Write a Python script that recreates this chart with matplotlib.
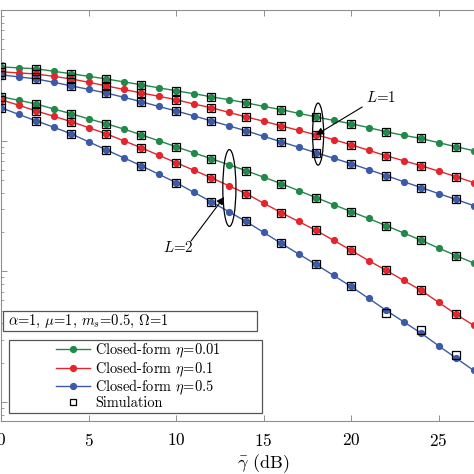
import numpy as np
import matplotlib
matplotlib.use("Agg")
import matplotlib.pyplot as plt
from matplotlib.patches import Ellipse, Rectangle
from matplotlib.lines import Line2D

plt.rcParams['font.family'] = ['cmr10', 'DejaVu Serif']
plt.rcParams['mathtext.fontset'] = 'cm'
plt.rcParams['axes.formatter.use_mathtext'] = True

# average SNR in dB (closed-form points every 1 dB, simulation every 2 dB)
snr_db = np.arange(0, 29)
snr_sim = np.arange(0, 29, 2)

# L = 1
cf_L1_eta001 = [0.367, 0.361, 0.355, 0.340, 0.325, 0.311, 0.297, 0.282, 0.268, 0.254,
                0.241, 0.229, 0.217, 0.206, 0.195, 0.183, 0.173, 0.162, 0.152, 0.143,
                0.135, 0.126, 0.117, 0.110, 0.104, 0.0966, 0.0899, 0.0839, 0.0782]
cf_L1_eta01 = [0.337, 0.330, 0.324, 0.311, 0.297, 0.280, 0.263, 0.247, 0.232, 0.219,
               0.206, 0.191, 0.179, 0.165, 0.152, 0.141, 0.130, 0.120, 0.111, 0.102,
               0.0931, 0.0845, 0.0767, 0.0703, 0.0644, 0.0585, 0.0531, 0.0478, 0.0431]
cf_L1_eta05 = [0.319, 0.308, 0.297, 0.280, 0.263, 0.247, 0.232, 0.215, 0.199, 0.183,
               0.169, 0.155, 0.142, 0.130, 0.119, 0.108, 0.0982, 0.0891, 0.0809, 0.0735,
               0.0667, 0.0601, 0.0541, 0.0486, 0.0438, 0.0394, 0.0355, 0.0319, 0.0287]

# L = 2
cf_L2_eta001 = [0.217, 0.204, 0.191, 0.175, 0.161, 0.147, 0.135, 0.123, 0.111, 0.100,
                0.0899, 0.0809, 0.0729, 0.0656, 0.0590, 0.0526, 0.0470, 0.0415, 0.0367, 0.0324,
                0.0287, 0.0254, 0.0224, 0.0197, 0.0173, 0.0151, 0.0132, 0.0116, 0.0102]
cf_L2_eta01 = [0.206, 0.187, 0.169, 0.154, 0.140, 0.126, 0.113, 0.100, 0.0885, 0.0775,
               0.0679, 0.0596, 0.0522, 0.0453, 0.0394, 0.0333, 0.0282, 0.0241, 0.0206, 0.0173,
               0.0145, 0.0121, 0.0102, 0.00853, 0.00716, 0.00580, 0.00470, 0.00387, 0.00319]
cf_L2_eta05 = [0.179, 0.159, 0.142, 0.127, 0.113, 0.0982, 0.0853, 0.0741, 0.0644, 0.0555,
               0.0478, 0.0404, 0.0342, 0.0287, 0.0241, 0.0199, 0.0164, 0.0136, 0.0113, 0.00931,
               0.00767, 0.00622, 0.00504, 0.00412, 0.00337, 0.00270, 0.00217, 0.00175, 0.00142]

sim_L1_eta001 = [0.367, 0.355, 0.325, 0.297, 0.268, 0.241, 0.217, 0.195, 0.173, 0.152,
                 0.135, 0.117, 0.104, 0.0899, 0.0782]
sim_L1_eta01 = [0.337, 0.324, 0.297, 0.263, 0.232, 0.206, 0.179, 0.152, 0.130, 0.111,
                0.0931, 0.0767, 0.0644, 0.0531, 0.0431]
sim_L1_eta05 = [0.319, 0.297, 0.263, 0.232, 0.199, 0.169, 0.142, 0.119, 0.0982, 0.0809,
                0.0667, 0.0541, 0.0438, 0.0355, 0.0287]
sim_L2_eta001 = [0.217, 0.191, 0.161, 0.135, 0.111, 0.0899, 0.0729, 0.0590, 0.0470, 0.0367,
                 0.0287, 0.0224, 0.0173, 0.0132, 0.0102]
sim_L2_eta01 = [0.206, 0.169, 0.140, 0.113, 0.0885, 0.0679, 0.0522, 0.0394, 0.0282, 0.0206,
                0.0145, 0.0102, 0.00716, 0.00470, 0.00319]
sim_L2_eta05 = [0.179, 0.142, 0.113, 0.0853, 0.0644, 0.0478, 0.0342, 0.0241, 0.0164, 0.0113,
                0.00767, 0.00478, 0.00355, 0.00229, 0.00150]

labels = [r'Closed-form $\eta$=0.01', r'Closed-form $\eta$=0.1', r'Closed-form $\eta$=0.5']
colors = ['#22894b', '#e4262c', '#3b5aa8']

fig = plt.figure(figsize=(4.74, 4.74), dpi=100)
# the reference is cropped: left edge at 0 dB, right side cut before 30 dB
ax = fig.add_axes([1 / 474, 53 / 474, 525 / 474, 411 / 474])

cf_curves = [[cf_L1_eta001, cf_L1_eta01, cf_L1_eta05],
             [cf_L2_eta001, cf_L2_eta01, cf_L2_eta05]]
sim_curves = [[sim_L1_eta001, sim_L1_eta01, sim_L1_eta05],
              [sim_L2_eta001, sim_L2_eta01, sim_L2_eta05]]

for cf_set, sim_set in zip(cf_curves, sim_curves):
    for vals, c in zip(cf_set, colors):
        ax.plot(snr_db, vals, '-o', color=c, lw=1.0, ms=4.2, mec=c, zorder=3)
    for vals in sim_set:
        ax.plot(snr_sim, vals, 's', mfc='none', mec='black', mew=0.9, ms=5.5, zorder=4)

ax.set_yscale('log')
ax.set_xlim(0, 30)
ax.set_ylim(10 ** -3.145, 1)
ax.set_xticks([0, 5, 10, 15, 20, 25, 30])

for s in ax.spines.values():
    s.set_color('#8f8f8f')
    s.set_linewidth(0.8)
ax.tick_params(which='both', direction='in', top=True, right=True, colors='#8f8f8f',
               labelcolor='black', labelsize=12.5, pad=8)
ax.tick_params(which='major', length=4.5, width=0.7)
ax.tick_params(which='minor', length=2.5, width=0.6)
ax.set_xlabel(r'$\bar{\gamma}$ (dB)', fontsize=13, labelpad=2)

# ellipses + arrows marking the diversity branches
ax.add_patch(Ellipse((0.604, 0.698), 0.021, 0.151, transform=ax.transAxes,
                     fill=False, ec='black', lw=0.9, zorder=5))
ax.add_patch(Ellipse((0.435, 0.567), 0.025, 0.187, transform=ax.transAxes,
                     fill=False, ec='black', lw=0.9, zorder=5))
arrow = dict(arrowstyle='-|>', color='black', lw=0.8, mutation_scale=11, shrinkA=0, shrinkB=0)
ax.annotate('', xy=(0.600, 0.696), xytext=(0.688, 0.764), xycoords='axes fraction',
            arrowprops=arrow, zorder=6)
ax.annotate('', xy=(0.425, 0.545), xytext=(0.362, 0.438), xycoords='axes fraction',
            arrowprops=arrow, zorder=6)
ax.text(0.724, 0.786, r'$L$=1', transform=ax.transAxes, fontsize=10.8, ha='center', va='center')
ax.text(0.337, 0.421, r'$L$=2', transform=ax.transAxes, fontsize=10.8, ha='center', va='center')

# parameter box
ax.add_patch(Rectangle((0.004, 0.219), 0.484, 0.049, transform=ax.transAxes,
                       fill=True, fc='white', ec='#555555', lw=0.9, zorder=6))
ax.text(0.0135, 0.243, r'$\alpha$=1, $\mu$=1, $m_s$=0.5, $\Omega$=1', transform=ax.transAxes,
        fontsize=10.5, ha='left', va='center', zorder=7)

# legend with a wide frame like the original
ax.add_patch(Rectangle((0.0152, 0.0195), 0.482, 0.178, transform=ax.transAxes,
                       fill=True, fc='white', ec='#555555', lw=0.9, zorder=6))
handles = [Line2D([], [], color=c, marker='o', lw=1.0, ms=4.2) for c in colors]
handles.append(Line2D([], [], ls='none', marker='s', mfc='none', mec='black', mew=0.9, ms=5.0))
leg = ax.legend(handles, labels + ['Simulation'], loc='upper left',
                bbox_to_anchor=(0.100, 0.203), frameon=False, fontsize=10.4,
                handlelength=2.35, handletextpad=0.35, labelspacing=-0.05,
                borderpad=0.2, borderaxespad=0)
leg.set_zorder(8)

fig.savefig('out.png', dpi=100)
